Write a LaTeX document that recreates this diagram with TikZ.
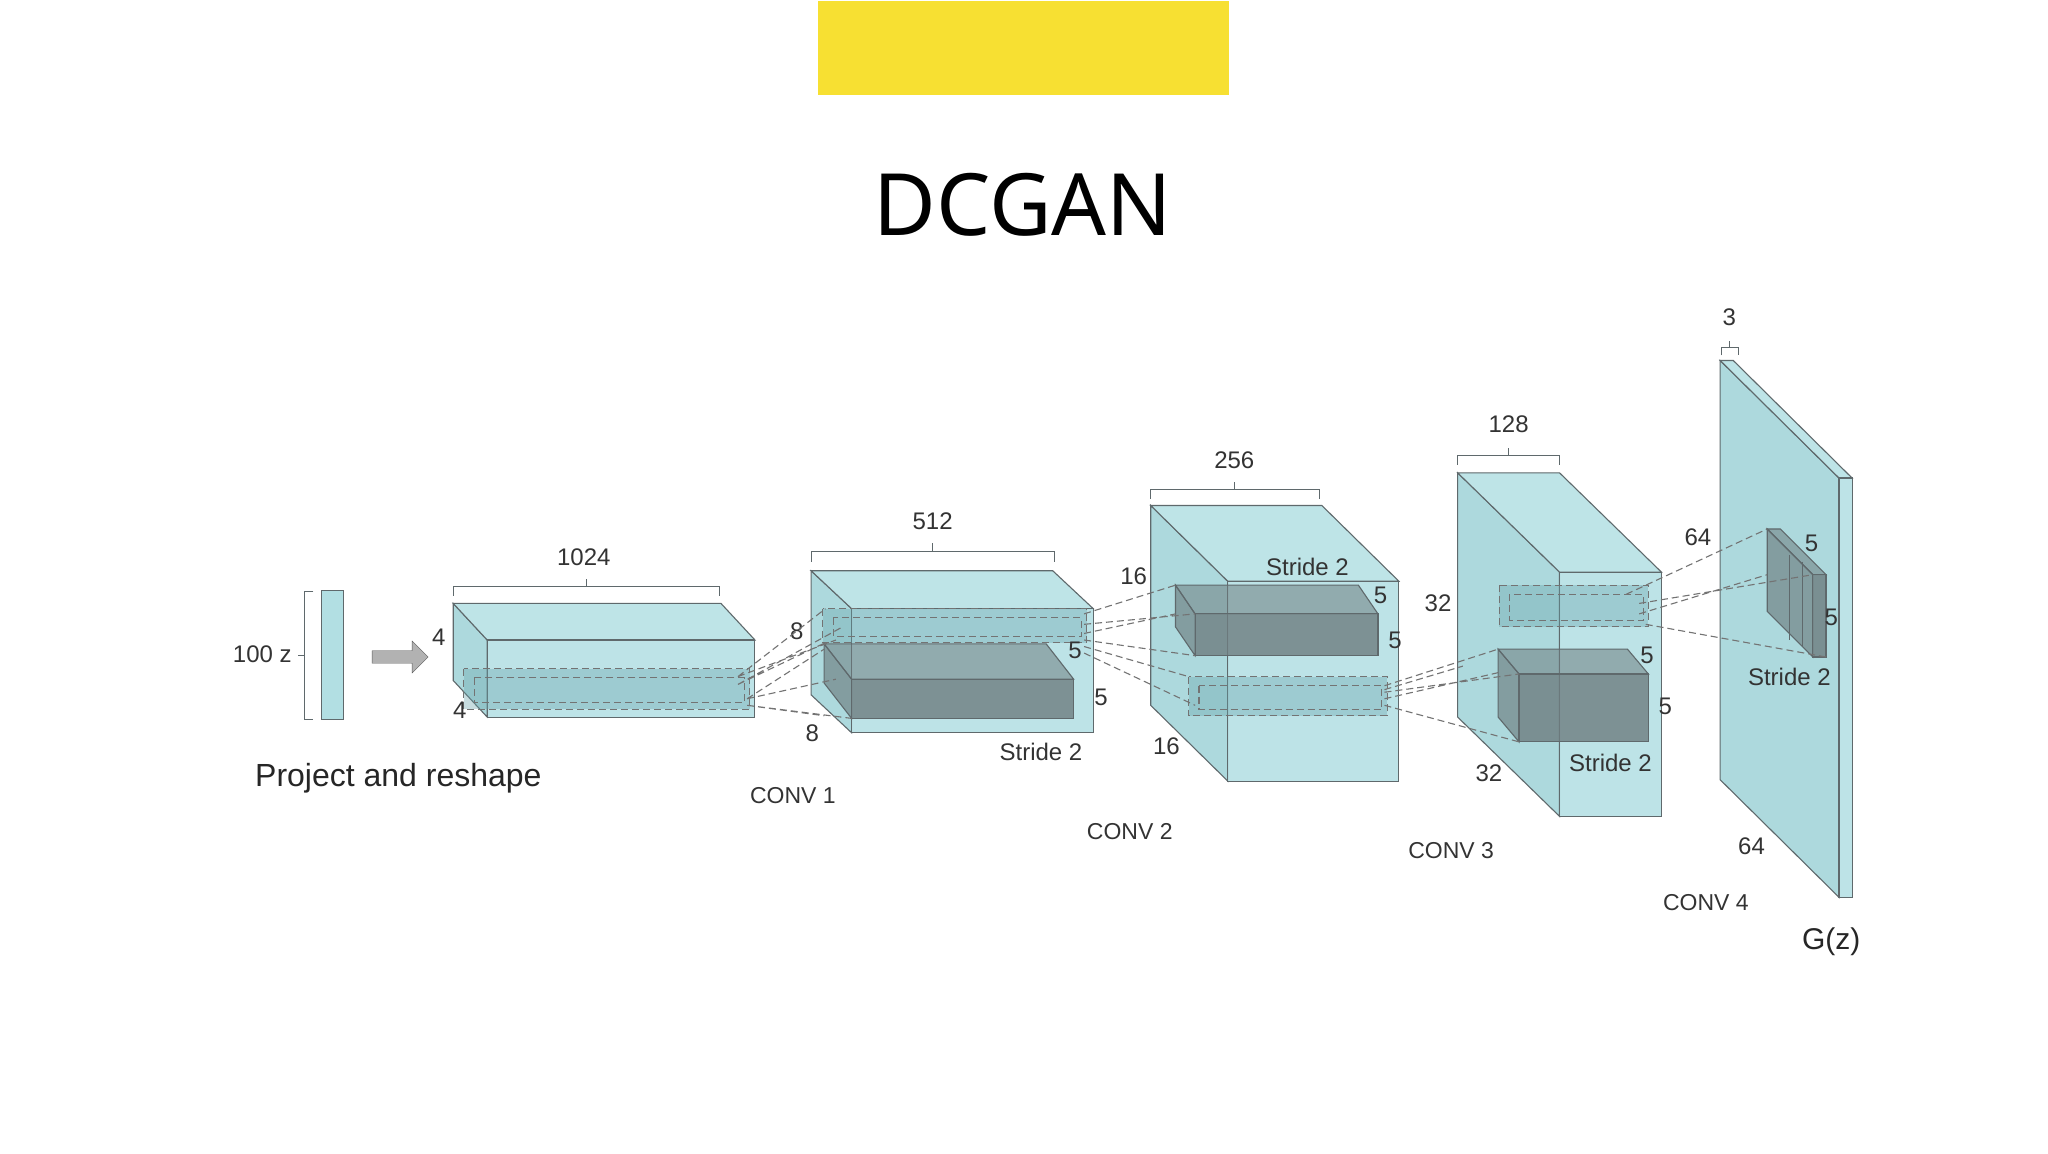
\documentclass[tikz,border=0pt]{standalone}
\usepackage{fontspec}
\setmainfont{Liberation Sans}
\newfontfamily\titlefont{Noto Sans}
\usetikzlibrary{calc,shapes.arrows}
\definecolor{frontc}{RGB}{178,223,227}
\definecolor{topc}{RGB}{190,228,231}
\definecolor{sidec}{RGB}{165,213,218}
\definecolor{edgec}{RGB}{95,105,108}
\definecolor{filt}{RGB}{110,125,128}
\definecolor{strip}{RGB}{100,160,168}
\definecolor{ylw}{RGB}{247,224,50}
\newcommand\cuboid[7]{%
 \filldraw[#1,fill=sidec,fill opacity=.9] (#2,#3)--(#2+#6,#3+#7)--(#2+#6,#5+#7)--(#2,#5)--cycle;
 \filldraw[#1,fill=topc] (#2,#3)--(#2+#6,#3+#7)--(#4+#6,#3+#7)--(#4,#3)--cycle;
 \filldraw[#1,fill=frontc,fill opacity=.85] (#2,#3) rectangle (#4,#5);}
\newcommand\fcube[7]{%
 \filldraw[#1,fill=filt,fill opacity=.65] (#2,#3)--(#2+#6,#3+#7)--(#2+#6,#5+#7)--(#2,#5)--cycle;
 \filldraw[#1,fill=filt,fill opacity=.55] (#2,#3)--(#2+#6,#3+#7)--(#4+#6,#3+#7)--(#4,#3)--cycle;
 \filldraw[#1,fill=filt,fill opacity=.8] (#2,#3) rectangle (#4,#5);}
\newcommand\dstrip[4]{%
 \filldraw[dline,fill=strip,fill opacity=.35] (#1,#2) rectangle (#3,#4);
 \draw[dline] (#1+8,#2+7) rectangle (#3-4,#4-5);}
\tikzset{edge/.style={draw=edgec,line width=1.1pt},
 dline/.style={draw=gray!90!black,dashed,dash pattern=on 7pt off 4pt,line width=1.1pt},
 lab/.style={font=\fontsize{24}{28}\selectfont,text=black!80},
 big/.style={font=\fontsize{32}{36}\selectfont,text=black!85},
 convl/.style={font=\fontsize{23}{27}\selectfont,text=black!80}}
\begin{document}
\begin{tikzpicture}[x=1.3061pt,y=-1.3061pt]
\useasboundingbox[fill=white] (0,0) rectangle (1568,882.8);
\fill[ylw] (626,1) rectangle (941,73);
\node[font=\titlefont\fontsize{86}{96}\selectfont] (title) at (783,157) {DCGAN};
% z vector
\filldraw[edge,fill=frontc] (246,452) rectangle (263,551);
\draw[edge,line width=.9pt] (240,453)--(233,453)--(233,551)--(240,551);
\draw[edge,line width=.9pt] (233,502)--(228,502);
\node[lab,anchor=east] (z) at (226,501) {100 z};
\node[big] (pr) at (305,596) {Project and reshape};
\node[single arrow,draw=gray!70!black,fill=gray!60,minimum height=56pt,minimum width=32pt,single arrow head extend=5pt,inner sep=3pt] (arr) at (304,503) {};
% block 1
\cuboid{edge}{373}{490}{578}{549}{-26}{-28}
\dstrip{355}{512}{574}{543}
\node[lab] at (336,488) {4};
\node[lab] at (352,544) {4};
\draw[edge,line width=.9pt] (347,456)--(347,449)--(551,449)--(551,456) (449,449)--(449,443);
\node[lab] at (447,427) {1024};
% conv1
\cuboid{edge}{652}{466}{837}{561}{-31}{-29}
\dstrip{630}{466}{832}{492}
\fcube{edge}{652}{520}{822}{550}{-21}{-27}
\draw[edge,line width=.9pt] (621,430)--(621,422)--(807,422)--(807,430) (714,422)--(714,416);
\node[lab] at (714,399) {512};
\node[lab] at (610,483) {8};
\node[lab] at (622,561) {8};
\node[lab] at (823,498) {5};
\node[lab] at (843,534) {5};
\node[lab] at (797,576) {Stride 2};
\node[convl] at (607,609) {CONV 1};
% connectors block1 -> conv1
\draw[dline] (565,518)--(632,466) (565,518)--(640,490) (565,524)--(632,492) (565,524)--(645,480);
\draw[dline] (572,535)--(631,497) (572,540)--(652,550) (572,535)--(640,520) (572,540)--(631,548);
% conv2
\cuboid{edge}{940}{445}{1071}{598}{-59}{-58}
\fcube{edge}{915}{470}{1055}{502}{-15}{-22}
\dstrip{910}{518}{1062}{548}
\draw[edge,line width=.9pt] (881,382)--(881,375)--(1010,375)--(1010,382) (945,375)--(945,369);
\node[lab] at (945,352) {256};
\node[lab] at (868,441) {16};
\node[lab] at (893,571) {16};
\node[lab] at (1001,434) {Stride 2};
\node[lab] at (1057,456) {5};
\node[lab] at (1068,490) {5};
\node[convl] at (865,637) {CONV 2};
\draw[dline] (830,470)--(900,448) (830,478)--(915,470) (830,485)--(900,470) (830,490)--(915,502);
\draw[dline] (830,495)--(910,518) (830,500)--(915,540);
% conv3
\cuboid{edge}{1194}{438}{1272}{625}{-78}{-76}
\dstrip{1148}{448}{1262}{480}
\fcube{edge}{1163}{516}{1262}{568}{-16}{-19}
\draw[edge,line width=.9pt] (1116,356)--(1116,349)--(1194,349)--(1194,356) (1155,349)--(1155,343);
\node[lab] at (1155,325) {128};
\node[lab] at (1101,462) {32};
\node[lab] at (1140,592) {32};
\node[lab] at (1261,502) {5};
\node[lab] at (1275,541) {5};
\node[lab] at (1233,584) {Stride 2};
\node[convl] at (1111,651) {CONV 3};
\draw[dline] (1060,525)--(1147,497) (1060,530)--(1163,516) (1060,535)--(1147,515) (1060,540)--(1163,568);
\draw[dline] (1060,528)--(1120,510);
% conv4
\cuboid{edge}{1408}{366}{1418}{687}{-91}{-90}
\fcube{edge}{1388}{440}{1398}{503}{-35}{-35}
\draw[edge] (1370,425)--(1370,490) (1380,430)--(1380,495);
\draw[edge,line width=.9pt] (1318,272)--(1318,266)--(1331,266)--(1331,272) (1324,266)--(1324,261);
\node[lab] at (1324,243) {3};
\node[lab] at (1300,411) {64};
\node[lab] at (1341,648) {64};
\node[lab] at (1387,416) {5};
\node[lab] at (1402,473) {5};
\node[lab] at (1370,518) {Stride 2};
\node[convl] at (1306,691) {CONV 4};
\node[big,font=\fontsize{30}{34}\selectfont] at (1402,721) {G(z)};
\draw[dline] (1245,455)--(1353,405) (1255,462)--(1388,440) (1255,470)--(1353,440) (1260,478)--(1398,503);
\end{tikzpicture}
\end{document}
